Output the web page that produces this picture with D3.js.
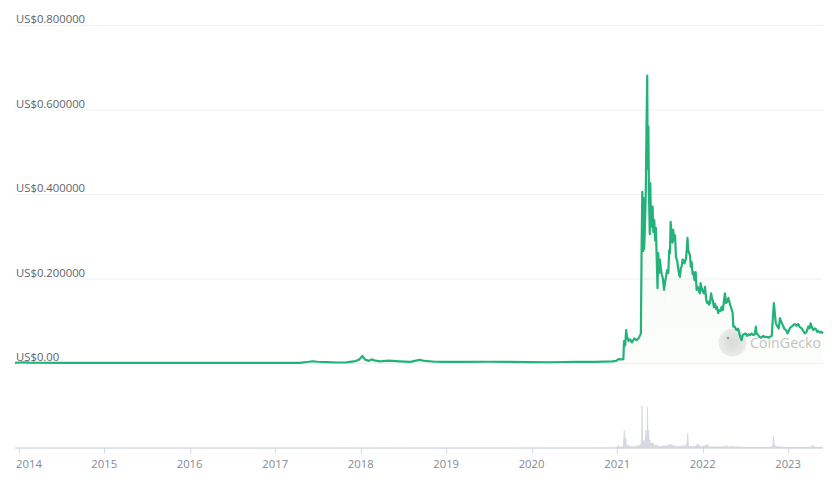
<!DOCTYPE html>
<html>
<head>
<meta charset="utf-8">
<script src="https://cdn.jsdelivr.net/npm/d3@7"></script>
<style>
  html, body { margin: 0; padding: 0; background: #ffffff; }
  svg { display: block; }
</style>
</head>
<body>
<svg id="chart" width="835" height="489"></svg>
<script>
// ---- data ----
const priceDates = [
  "2013-12-16","2014-01-05","2014-01-20","2014-02-15","2014-04-01","2014-07-01","2014-12-01",
  "2015-06-01","2016-01-01","2016-06-01","2017-01-01","2017-04-15","2017-05-25","2017-06-10",
  "2017-07-01","2017-08-10","2017-09-20","2017-11-01","2017-12-10","2017-12-25","2018-01-08",
  "2018-01-20","2018-02-05","2018-02-16","2018-03-05","2018-03-25","2018-05-01","2018-06-15",
  "2018-08-01","2018-09-10","2018-10-01","2018-11-15","2018-12-20","2019-04-01","2019-07-01",
  "2019-10-01","2019-12-20","2020-03-15","2020-07-10","2020-10-01","2020-12-10","2020-12-28",
  "2021-01-05","2021-01-20","2021-01-27","2021-01-30","2021-02-04","2021-02-08","2021-02-11",
  "2021-02-18","2021-02-25","2021-03-05","2021-03-15","2021-03-25","2021-04-04","2021-04-12",
  "2021-04-15","2021-04-18","2021-04-22","2021-04-24","2021-04-26","2021-04-29","2021-05-03",
  "2021-05-06","2021-05-09","2021-05-11","2021-05-14","2021-05-16","2021-05-18","2021-05-20",
  "2021-05-22","2021-05-25","2021-05-28","2021-06-01","2021-06-04","2021-06-08","2021-06-12",
  "2021-06-15","2021-06-19","2021-06-22","2021-06-25","2021-06-29","2021-07-02","2021-07-06",
  "2021-07-10","2021-07-15","2021-07-20","2021-07-24","2021-07-28","2021-08-02","2021-08-07",
  "2021-08-11","2021-08-14","2021-08-17","2021-08-21","2021-08-25","2021-08-28","2021-09-01",
  "2021-09-05","2021-09-09","2021-09-14","2021-09-18","2021-09-22","2021-09-26","2021-09-30",
  "2021-10-03","2021-10-07","2021-10-10","2021-10-15","2021-10-21","2021-10-25","2021-10-28",
  "2021-10-31","2021-11-04","2021-11-08","2021-11-11","2021-11-15","2021-11-19","2021-11-22",
  "2021-11-27","2021-12-02","2021-12-06","2021-12-11","2021-12-16","2021-12-20","2021-12-23",
  "2021-12-28","2022-01-01","2022-01-06","2022-01-11","2022-01-16","2022-01-20","2022-01-24",
  "2022-01-28","2022-02-01","2022-02-06","2022-02-10","2022-02-13","2022-02-18","2022-02-23",
  "2022-02-27","2022-03-03","2022-03-08","2022-03-13","2022-03-18","2022-03-23","2022-03-28",
  "2022-04-01","2022-04-06","2022-04-11","2022-04-16","2022-04-21","2022-04-27","2022-05-03",
  "2022-05-09","2022-05-12","2022-05-18","2022-05-25","2022-06-02","2022-06-09","2022-06-16",
  "2022-06-21","2022-06-26","2022-07-03","2022-07-10","2022-07-15","2022-07-22","2022-07-29",
  "2022-08-05","2022-08-12","2022-08-16","2022-08-19","2022-08-24","2022-08-31","2022-09-08",
  "2022-09-17","2022-09-26","2022-10-03","2022-10-08","2022-10-15","2022-10-23","2022-10-27",
  "2022-11-01","2022-11-04","2022-11-09","2022-11-13","2022-11-17","2022-11-22","2022-11-27",
  "2022-12-02","2022-12-09","2022-12-16","2022-12-23","2022-12-30","2023-01-09","2023-01-16",
  "2023-01-23","2023-01-30","2023-02-06","2023-02-13","2023-02-20","2023-02-28","2023-03-06",
  "2023-03-14","2023-03-21","2023-03-28","2023-04-03","2023-04-07","2023-04-12","2023-04-18",
  "2023-04-24","2023-04-30","2023-05-05","2023-05-10","2023-05-16","2023-05-22","2023-05-30"
];
const priceValues = [
  0.0004,0.0012,0.0016,0.0009,0.0006,0.0004,0.0002,
  0.0002,0.0002,0.0003,0.0002,0.0005,0.0030,0.0042,
  0.0030,0.0022,0.0012,0.0016,0.0045,0.0080,0.0166,
  0.0080,0.0050,0.0085,0.0055,0.0040,0.0055,0.0040,
  0.0028,0.0075,0.0048,0.0030,0.0025,0.0028,0.0030,
  0.0026,0.0022,0.0018,0.0030,0.0026,0.0040,0.0050,
  0.0090,0.0085,0.0090,0.0520,0.0420,0.0780,0.0640,
  0.0520,0.0560,0.0490,0.0580,0.0540,0.0600,0.0700,
  0.2700,0.4050,0.2650,0.3900,0.2700,0.3200,0.4100,
  0.5600,0.6800,0.4600,0.5600,0.4170,0.3600,0.3050,
  0.4260,0.3380,0.3230,0.3700,0.3100,0.3380,0.2900,
  0.3200,0.2400,0.1770,0.2600,0.2130,0.2450,0.2250,
  0.2100,0.2000,0.1730,0.1900,0.2040,0.2200,0.2130,
  0.2670,0.2600,0.3340,0.3080,0.2850,0.3150,0.2900,
  0.3020,0.2500,0.2420,0.2260,0.2100,0.2040,0.2250,
  0.2280,0.2450,0.2440,0.2360,0.2450,0.2680,0.2960,
  0.2670,0.2600,0.2550,0.2280,0.2380,0.2100,0.2150,
  0.1960,0.2150,0.1730,0.1800,0.1700,0.1650,0.1890,
  0.1760,0.1700,0.1650,0.1800,0.1500,0.1420,0.1450,
  0.1380,0.1420,0.1650,0.1520,0.1490,0.1320,0.1400,
  0.1280,0.1330,0.1180,0.1250,0.1230,0.1330,0.1250,
  0.1430,0.1650,0.1420,0.1460,0.1540,0.1400,0.1300,
  0.1180,0.0860,0.0860,0.0780,0.0810,0.0640,0.0540,
  0.0660,0.0680,0.0700,0.0640,0.0680,0.0660,0.0700,
  0.0660,0.0680,0.0860,0.0700,0.0680,0.0620,0.0600,
  0.0640,0.0610,0.0620,0.0600,0.0620,0.0640,0.1000,
  0.1420,0.1250,0.0950,0.0900,0.0860,0.0820,0.1060,
  0.0980,0.0900,0.0810,0.0780,0.0700,0.0830,0.0860,
  0.0900,0.0920,0.0880,0.0920,0.0850,0.0820,0.0760,
  0.0700,0.0740,0.0860,0.0820,0.0940,0.0860,0.0780,
  0.0820,0.0800,0.0740,0.0760,0.0720,0.0740,0.0700
];

const volumeDates = [
  "2013-12-16","2020-12-20","2021-01-02","2021-01-05","2021-01-08","2021-01-26","2021-01-29",
  "2021-01-31","2021-02-03","2021-02-06","2021-02-08","2021-02-11","2021-02-20","2021-03-01",
  "2021-03-15","2021-04-01","2021-04-12","2021-04-15","2021-04-17","2021-04-19","2021-04-22",
  "2021-04-25","2021-04-28","2021-05-01","2021-05-03","2021-05-05","2021-05-08","2021-05-10",
  "2021-05-12","2021-05-14","2021-05-17","2021-05-19","2021-05-21","2021-05-24","2021-05-27",
  "2021-06-04","2021-06-10","2021-06-20","2021-07-01","2021-07-15","2021-08-01","2021-08-15",
  "2021-09-01","2021-09-20","2021-10-15","2021-10-26","2021-10-29","2021-11-01","2021-11-05",
  "2021-11-20","2021-12-05","2021-12-12","2021-12-20","2022-01-10","2022-01-18","2022-02-01",
  "2022-03-01","2022-04-06","2022-04-13","2022-04-20","2022-05-10","2022-06-15","2022-08-15",
  "2022-10-20","2022-10-27","2022-10-30","2022-11-02","2022-11-08","2022-11-15","2022-12-15",
  "2023-02-01","2023-04-10","2023-04-17","2023-04-24","2023-05-30"
];
const volumeValues = [
  0.02,0.2,0.8,4.5,1.0,1.5,14,
  26,9,15,6,4,3,2,
  2,3,5,14,62,10,8,
  12,4,9,26,10,20,60,
  22,26,12,8,12,5,7,
  7,3,4,2,3,3,5,
  3,2,3,5,22,4,2,
  2,3,6,2,3,5,1.5,
  1.5,2,4,1.5,2,1,1,
  1,3,17,6,2,2,1,
  1,1,4,1,1
];

const yTicks = [0, 0.2, 0.4, 0.6, 0.8];
const yTickLabels = ["US$0.00","US$0.200000","US$0.400000","US$0.600000","US$0.800000"];
const xTickYears = ["2014","2015","2016","2017","2018","2019","2020","2021","2022","2023"];

// ---- build ----
const parse = d3.utcParse("%Y-%m-%d");
const price = priceDates.map((d, i) => ({ date: parse(d), value: priceValues[i] }));
const volume = volumeDates.map((d, i) => ({ date: parse(d), value: volumeValues[i] }));

const svg = d3.select("#chart");
const left = 15, right = 823;

const x = d3.scaleUtc()
  .domain([parse("2013-12-16"), parse("2023-05-30")])
  .range([left, right]);
const y = d3.scaleLinear().domain([0, 0.8]).range([363, 25]);
const yv = d3.scaleLinear().domain([0, 100]).range([448, 380]);

const green = "#22b27a";

// gradient for area
const defs = svg.append("defs");
const grad = defs.append("linearGradient").attr("id", "fillGrad")
  .attr("gradientUnits", "userSpaceOnUse")
  .attr("x1", 0).attr("x2", 0).attr("y1", y(0.7)).attr("y2", y(0));
grad.append("stop").attr("offset", "0%").attr("stop-color", "#9bd08a").attr("stop-opacity", 0.16);
grad.append("stop").attr("offset", "100%").attr("stop-color", "#9bd08a").attr("stop-opacity", 0.03);

const wm = defs.append("radialGradient").attr("id", "wmGrad");
wm.append("stop").attr("offset", "0%").attr("stop-color", "#d6d6d6");
wm.append("stop").attr("offset", "100%").attr("stop-color", "#ebebeb");

// grid lines
svg.append("g").selectAll("line").data(yTicks).join("line")
  .attr("x1", left).attr("x2", right)
  .attr("y1", d => y(d) + 0.5).attr("y2", d => y(d) + 0.5)
  .attr("stroke", "#eef0f2").attr("stroke-width", 1);

// y labels
svg.append("g").selectAll("text").data(yTicks).join("text")
  .attr("x", 16).attr("y", d => y(d) - 2)
  .attr("font-family", "'Open Sans', 'Noto Sans', sans-serif")
  .attr("font-size", "11.3px")
  .attr("fill", "#5f6368")
  .text((d, i) => yTickLabels[i]);

// watermark
svg.append("circle").attr("cx", 732.5).attr("cy", 342.5).attr("r", 14)
  .attr("fill", "url(#wmGrad)").attr("opacity", 0.9);
svg.append("circle").attr("cx", 728).attr("cy", 338).attr("r", 1.3).attr("fill", "#9a9a9a");
svg.append("text").attr("x", 750).attr("y", 347.5)
  .attr("font-family", "'Open Sans', 'Noto Sans', sans-serif")
  .attr("font-size", "14px").attr("fill", "#c4c4c4")
  .attr("textLength", 71).attr("lengthAdjust", "spacingAndGlyphs")
  .text("CoinGecko");

// area + line
const area = d3.area().x(d => x(d.date)).y0(y(0)).y1(d => y(d.value)).curve(d3.curveLinear);
svg.append("path").datum(price).attr("d", area).attr("fill", "url(#fillGrad)");
const line = d3.line().x(d => x(d.date)).y(d => y(d.value)).curve(d3.curveLinear);
svg.append("path").datum(price).attr("d", line)
  .attr("fill", "none").attr("stroke", green).attr("stroke-width", 2.2)
  .attr("stroke-linejoin", "round");

// volume
const varea = d3.area().x(d => x(d.date)).y0(yv(0)).y1(d => yv(d.value)).curve(d3.curveLinear);
svg.append("path").datum(volume).attr("d", varea)
  .attr("fill", "#d7d9e3").attr("stroke", "#cdd0dc").attr("stroke-width", 0.6);

// x axis
const xAxisG = svg.append("g");
xAxisG.append("line").attr("x1", left).attr("x2", right)
  .attr("y1", 448.5).attr("y2", 448.5).attr("stroke", "#dde2ea");
const tickDates = xTickYears.map(yr => parse(yr + "-01-01"));
xAxisG.selectAll(".tk").data(tickDates).join("line")
  .attr("x1", d => Math.round(x(d)) + 0.5).attr("x2", d => Math.round(x(d)) + 0.5)
  .attr("y1", 448).attr("y2", 453).attr("stroke", "#d3d9e3");
xAxisG.selectAll("text").data(tickDates).join("text")
  .attr("x", (d, i) => Math.max(x(d), 16 + 13))
  .attr("y", 468)
  .attr("text-anchor", "middle")
  .attr("font-family", "'Open Sans', 'Noto Sans', sans-serif")
  .attr("font-size", "11.3px")
  .attr("fill", "#858a93")
  .text((d, i) => xTickYears[i]);
</script>
</body>
</html>
